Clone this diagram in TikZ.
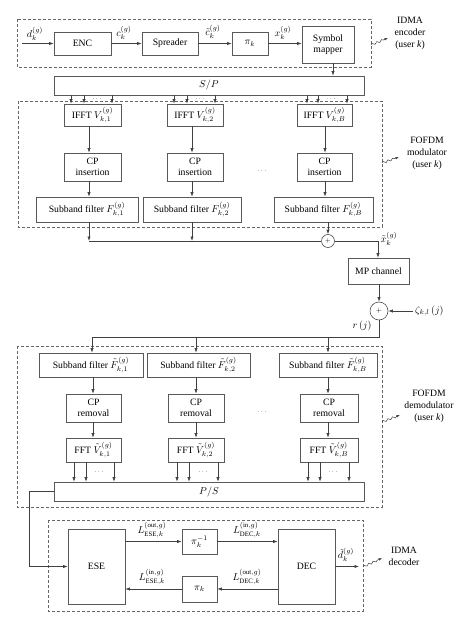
\documentclass[tikz,border=0pt]{standalone}
\usepackage{fontspec}
\setmainfont{Liberation Serif}
\usetikzlibrary{arrows.meta,decorations.pathmorphing,calc}
\begin{document}
\begin{tikzpicture}[x=1pt,y=-1pt,
 every node/.style={font=\fontsize{9.7}{10.5}\selectfont},
 box/.style={draw=black!65, line width=0.6pt, inner sep=1pt, align=center},
 arr/.style={draw=black!75, line width=0.6pt, -{Latex[length=4.5pt,width=3.2pt]}},
 ln/.style={draw=black!75, line width=0.6pt},
 grp/.style={draw=black!60, line width=0.6pt, dash pattern=on 3pt off 2pt},
 lbl/.style={inner sep=0.5pt},
 side/.style={inner sep=0pt, align=center, font=\fontsize{9.7}{12}\selectfont},
 sq/.style={draw=black!75, line width=0.5pt, decorate, decoration={snake, amplitude=1pt, segment length=5pt, post length=3pt}, -{Latex[length=3.5pt,width=2.5pt]}},
 sum/.style={draw=black!70, line width=0.6pt, circle, inner sep=0pt},
 dots/.style={inner sep=0pt, font=\fontsize{6}{6}\selectfont}
]
\useasboundingbox (0,0) rectangle (474,628);

% ---------------- IDMA encoder ----------------
\draw[grp] (17,19) rectangle (371,67);
\node[box,minimum width=57pt,minimum height=23pt] (enc) at (82.5,43.5) {ENC};
\node[box,minimum width=56pt,minimum height=23pt] (spr) at (170,43.5) {Spreader};
\node[box,minimum width=36pt,minimum height=23pt] (pi) at (250,43.5) {$\pi_k$};
\node[box,minimum width=52pt,minimum height=37pt] (sm) at (328,44.5) {Symbol\\mapper};
\coordinate (din) at (22,43.5);
\draw[arr] (din) -- (enc.west);
\draw[arr] (enc.east) -- (spr.west);
\draw[arr] (spr.east) -- (pi.west);
\draw[arr] (pi.east) -- (pi.east -| sm.west);
\node[lbl] (ld) at (35,34) {$d_k^{(g)}$};
\node[lbl] (lc) at (124,33) {$c_k^{(g)}$};
\node[lbl] (lct) at (213,32) {${\tilde{c}}_k^{(g)}$};
\node[lbl] (lx) at (283,33) {$x_k^{(g)}$};
\node[side] (encl) at (410,33) {IDMA\\encoder\\(user \textit{k})};
\coordinate (sqa1) at (371,45);
\coordinate (sqa2) at (388,38);
\draw[sq] (sqa1) -- (sqa2);

% ---------------- S/P ----------------
\node[box,minimum width=310pt,minimum height=19pt] (sp) at (209,85.5) {$S/P$};
\draw[arr] (sm.south -| 333,0) -- (sp.north -| 333,0);

% ---------------- FOFDM modulator ----------------
\draw[grp] (18,101) rectangle (382,227);
\node[box,minimum width=57pt,minimum height=22pt] (ifft1) at (92.5,115) {IFFT $V_{k,1}^{(g)}$};
\node[box,minimum width=56pt,minimum height=22pt] (ifft2) at (195,115) {IFFT $V_{k,2}^{(g)}$};
\node[box,minimum width=55pt,minimum height=22pt] (ifft3) at (324.5,115) {IFFT $V_{k,B}^{(g)}$};
\foreach \x in {71,84,112,174,187,215,307,318,347}
  \draw[arr] (sp.south -| \x,0) -- (ifft1.north -| \x,0);
\node[dots] (d1) at (97,99) {$\cdots$};
\node[dots] (d2) at (200,99) {$\cdots$};
\node[dots] (d3) at (331,99) {$\cdots$};

\node[box,minimum width=57pt,minimum height=28pt] (cp1) at (92.5,167) {CP\\insertion};
\node[box,minimum width=56pt,minimum height=28pt] (cp2) at (195,167) {CP\\insertion};
\node[box,minimum width=55pt,minimum height=28pt] (cp3) at (324.5,167) {CP\\insertion};
\node[dots] (dm) at (262,171) {$\cdots$};

\node[box,minimum width=102pt,minimum height=25pt] (sf1) at (87,209.5) {Subband filter $F_{k,1}^{(g)}$};
\node[box,minimum width=98pt,minimum height=25pt] (sf2) at (192,209.5) {Subband filter $F_{k,2}^{(g)}$};
\node[box,minimum width=99pt,minimum height=25pt] (sf3) at (323.5,209.5) {Subband filter $F_{k,B}^{(g)}$};

\foreach \x/\a/\b in {89/ifft1/cp1,192/ifft2/cp2,325/ifft3/cp3}
  \draw[arr] (\a.south -| \x,0) -- (\b.north -| \x,0);
\foreach \x/\a/\b in {89/cp1/sf1,192/cp2/sf2,325/cp3/sf3}
  \draw[arr] (\a.south -| \x,0) -- (\b.north -| \x,0);

% sum
\node[sum,minimum size=13pt] (s1) at (328,241) {\fontsize{6}{6}\selectfont$+$};
\coordinate (bus1) at (89,241);
\coordinate (bus2) at (192,241);
\draw[arr] (sf1.south -| bus1) -- (bus1);
\draw[arr] (sf2.south -| bus2) -- (bus2);
\draw[ln] (bus1) -- (s1.west);
\draw[arr] (sf3.south -| s1) -- (s1.north);

% MP channel
\node[box,minimum width=61pt,minimum height=26pt] (mp) at (378.5,271) {MP channel};
\coordinate (cr) at (378,241);
\draw[arr] (s1.east) -- (cr) -- (mp.north -| cr);
\node[lbl] (lxt) at (389,239) {${\tilde{x}}_k^{(g)}$};

\node[sum,minimum size=18pt] (s2) at (379,311) {\fontsize{7}{7}\selectfont$+$};
\draw[arr] (mp.south -| s2) -- (s2.north);
\node[inner sep=2pt,anchor=west] (zeta) at (413,311) {$\zeta_{k,l}\,(j)$};
\draw[arr] (zeta.west) -- (s2.east);
\node[lbl] (lr) at (362,326) {$r\,(j)$};

\coordinate (rb) at (379,337);
\coordinate (rl) at (92,337);
\coordinate (rm) at (196,337);
\coordinate (rr) at (328,337);
\draw[ln] (s2.south) -- (rb) -- (rl);

% ---------------- FOFDM demodulator ----------------
\draw[grp] (17,346) rectangle (382,507);
\node[box,minimum width=104pt,minimum height=24pt] (dsf1) at (91,365) {Subband filter ${\tilde{F}}_{k,1}^{(g)}$};
\node[box,minimum width=103pt,minimum height=24pt] (dsf2) at (198.5,365) {Subband filter ${\tilde{F}}_{k,2}^{(g)}$};
\node[box,minimum width=98pt,minimum height=24pt] (dsf3) at (328,365) {Subband filter ${\tilde{F}}_{k,B}^{(g)}$};
\draw[arr] (rl) -- (dsf1.north -| rl);
\draw[arr] (rm) -- (dsf2.north -| rm);
\draw[arr] (rr) -- (dsf3.north -| rr);

\node[box,minimum width=55pt,minimum height=28pt] (cpr1) at (93.5,408) {CP\\removal};
\node[box,minimum width=56pt,minimum height=28pt] (cpr2) at (196,408) {CP\\removal};
\node[box,minimum width=58pt,minimum height=28pt] (cpr3) at (329,408) {CP\\removal};
\node[dots] (dm2) at (262,412) {$\cdots$};

\node[box,minimum width=55pt,minimum height=24pt] (fft1) at (93.5,450) {FFT ${\tilde{V}}_{k,1}^{(g)}$};
\node[box,minimum width=56pt,minimum height=24pt] (fft2) at (196,450) {FFT ${\tilde{V}}_{k,2}^{(g)}$};
\node[box,minimum width=58pt,minimum height=24pt] (fft3) at (329,450) {FFT ${\tilde{V}}_{k,B}^{(g)}$};

\foreach \x/\a/\b in {93/dsf1/cpr1,196/dsf2/cpr2,328/dsf3/cpr3}
  \draw[arr] (\a.south -| \x,0) -- (\b.north -| \x,0);
\foreach \x/\a/\b in {93/cpr1/fft1,196/cpr2/fft2,328/cpr3/fft3}
  \draw[arr] (\a.south -| \x,0) -- (\b.north -| \x,0);

\node[box,minimum width=310pt,minimum height=19pt] (ps) at (209,491.5) {$P/S$};
\foreach \x in {74,86,114,177,189,218,308,320,349}
  \draw[arr] (fft1.south -| \x,0) -- (ps.north -| \x,0);
\node[dots] (e1) at (99,472) {$\cdots$};
\node[dots] (e2) at (203,472) {$\cdots$};
\node[dots] (e3) at (333,472) {$\cdots$};

\node[side] (modl) at (427,153) {FOFDM\\modulator\\(user \textit{k})};
\coordinate (sqb1) at (382,163);
\coordinate (sqb2) at (399,157);
\draw[sq] (sqb1) -- (sqb2);
\node[side] (deml) at (429,406) {FOFDM\\demodulator\\(user \textit{k})};
\coordinate (sqc1) at (382,422);
\coordinate (sqc2) at (400,415);
\draw[sq] (sqc1) -- (sqc2);

% ---------------- IDMA decoder ----------------
\draw[grp] (48,520) rectangle (363,611);
\node[box,minimum width=57pt,minimum height=75pt] (ese) at (96.5,566.5) {ESE};
\node[box,minimum width=57pt,minimum height=75pt] (dec) at (306.5,566.5) {DEC};
\node[box,minimum width=35pt,minimum height=25pt] (piinv) at (199.5,541.5) {$\pi_k^{-1}$};
\node[box,minimum width=35pt,minimum height=26pt] (pik) at (199.5,589) {$\pi_k$};

\coordinate (la) at (29,491.5);
\coordinate (lb) at (29,566.5);
\draw[arr] (ps.west) -- (la) -- (lb) -- (ese.west);

\draw[arr] (ese.east |- piinv) -- (piinv.west);
\draw[arr] (piinv.east) -- (dec.west |- piinv);
\draw[arr] (dec.west |- pik) -- (pik.east);
\draw[arr] (pik.west) -- (ese.east |- pik);

\node[lbl] (l1) at (152,530) {$L_{\mathrm{ESE},k}^{(\mathrm{out},g)}$};
\node[lbl] (l2) at (247,530) {$L_{\mathrm{DEC},k}^{(\mathrm{in},g)}$};
\node[lbl] (l3) at (152,577) {$L_{\mathrm{ESE},k}^{(\mathrm{in},g)}$};
\node[lbl] (l4) at (247,577) {$L_{\mathrm{DEC},k}^{(\mathrm{out},g)}$};

\coordinate (dout) at (359,566.5);
\draw[arr] (dec.east) -- (dout);
\node[lbl] (ldt) at (346,555) {${\tilde{d}}_k^{(g)}$};
\node[side] (decl) at (404,556) {IDMA\\decoder};
\coordinate (sqd1) at (363,567);
\coordinate (sqd2) at (382,558);
\draw[sq] (sqd1) -- (sqd2);
\end{tikzpicture}
\end{document}
